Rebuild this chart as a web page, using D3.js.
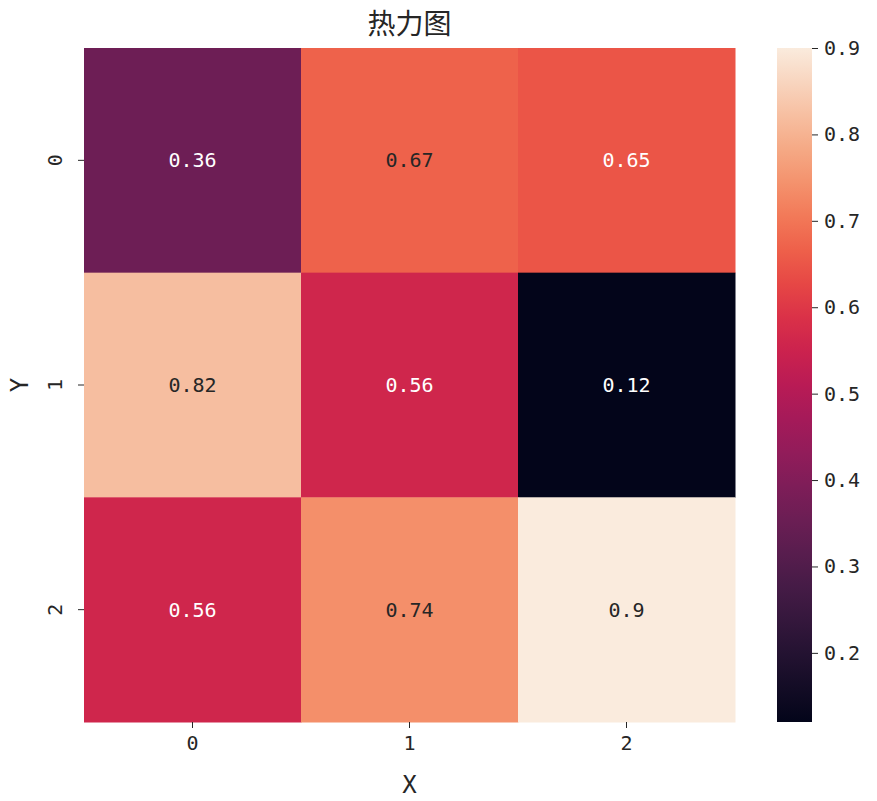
<!DOCTYPE html>
<html><head><meta charset="utf-8">
<script src="https://cdn.jsdelivr.net/npm/d3@7"></script>
<style>body{margin:0;background:#fff}text{font-family:"DejaVu Sans Mono","Noto Sans CJK SC",monospace}</style>
</head><body><svg id="c" width="877" height="801"></svg>
<script>
const xLabels = ['0', '1', '2'];
const yLabels = ['0', '1', '2'];
const values = [
  [0.36, 0.67, 0.65],
  [0.82, 0.56, 0.12],
  [0.56, 0.74, 0.9]
];
const cbTicks = [0.2, 0.3, 0.4, 0.5, 0.6, 0.7, 0.8, 0.9];
// rocket colormap stops
const rocket = ['#03051a','#221331','#451c47','#6a1f56','#921c5b','#b91657','#dd2c45','#f06043','#f5936a','#f6bfa0','#faebdd'];

const svg = d3.select('#c');
const L = 84, R = 735, T = 48, B = 722;
const x = d3.scaleBand().domain(xLabels).range([L, R]);
const y = d3.scaleBand().domain(yLabels).range([T, B]);
const vmin = d3.min(values.flat()), vmax = d3.max(values.flat());
const interp = d3.interpolateRgbBasis(rocket);
const color = v => interp((v - vmin) / (vmax - vmin));

const cells = values.flatMap((row, i) => row.map((v, j) => ({ v, r: yLabels[i], c: xLabels[j] })));
svg.selectAll('rect.cell').data(cells).join('rect')
  .attr('x', d => x(d.c)).attr('y', d => y(d.r))
  .attr('width', x.bandwidth() + 0.5).attr('height', y.bandwidth() + 0.5)
  .attr('fill', d => color(d.v));
svg.selectAll('text.val').data(cells).join('text')
  .attr('x', d => x(d.c) + x.bandwidth() / 2).attr('y', d => y(d.r) + y.bandwidth() / 2)
  .attr('text-anchor', 'middle').attr('dominant-baseline', 'central')
  .attr('font-size', 20)
  .attr('fill', d => d3.hsl(color(d.v)).l > 0.6 ? '#262626' : '#fff')
  .text(d => String(d.v));

const xa = svg.append('g').attr('transform', `translate(0,${B})`)
  .call(d3.axisBottom(x).tickSize(6).tickPadding(8));
const ya = svg.append('g').attr('transform', `translate(${L},0)`)
  .call(d3.axisLeft(y).tickSize(6).tickPadding(8));
[xa, ya].forEach(a => { a.select('.domain').remove(); a.selectAll('text').attr('font-size', 20).attr('fill', '#262626'); a.selectAll('line').attr('stroke', '#262626'); });
ya.selectAll('.tick text').attr('text-anchor', 'middle').attr('dy', 0)
  .attr('transform', function () { return `translate(-22,0) rotate(-90)`; }).attr('x', 0);

svg.append('text').attr('x', (L + R) / 2).attr('y', 34).attr('text-anchor', 'middle')
  .attr('font-size', 28).attr('font-family', 'Noto Sans CJK SC').attr('fill', '#262626').text('热力图');
svg.append('text').attr('x', (L + R) / 2).attr('y', 793).attr('text-anchor', 'middle')
  .attr('font-size', 24).attr('fill', '#262626').text('X');
svg.append('text').attr('transform', `translate(28,${(T + B) / 2}) rotate(-90)`).attr('text-anchor', 'middle')
  .attr('font-size', 24).attr('fill', '#262626').text('Y');

// colorbar
const cbX = 777, cbW = 35;
const cy = d3.scaleLinear().domain([vmin, vmax]).range([B, T]);
const defs = svg.append('defs');
const grad = defs.append('linearGradient').attr('id', 'g').attr('x1', 0).attr('y1', 1).attr('x2', 0).attr('y2', 0);
d3.range(0, 1.001, 0.05).forEach(t => grad.append('stop').attr('offset', t).attr('stop-color', interp(t)));
svg.append('rect').attr('x', cbX).attr('y', T).attr('width', cbW).attr('height', B - T).attr('fill', 'url(#g)');
const ca = svg.append('g').attr('transform', `translate(${cbX + cbW},0)`)
  .call(d3.axisRight(cy).tickValues(cbTicks).tickFormat(d3.format('.1f')).tickSize(6).tickPadding(6));
ca.select('.domain').remove();
ca.selectAll('text').attr('font-size', 20).attr('fill', '#262626');
ca.selectAll('line').attr('stroke', '#262626');
</script></body></html>
